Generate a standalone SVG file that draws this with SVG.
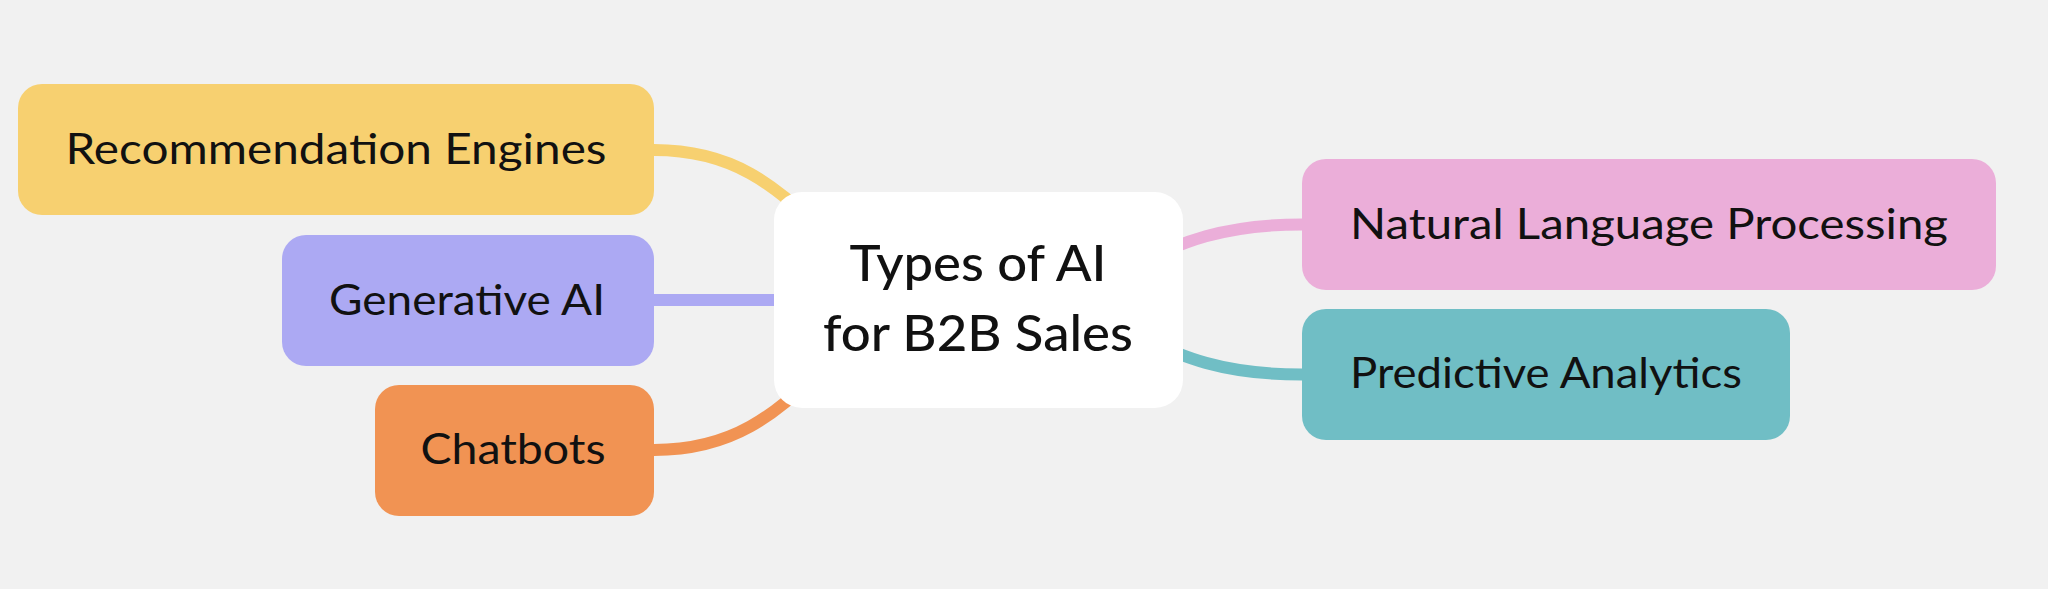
<svg xmlns="http://www.w3.org/2000/svg" width="2048" height="589" viewBox="0 0 2048 589">
<style>
.bg{fill:#f1f1f1}
.lbl{font-family:Lato,"Noto Sans","DejaVu Sans",sans-serif;font-size:43px;fill:#111111;text-anchor:middle}
.root{font-family:Lato,"Noto Sans","DejaVu Sans",sans-serif;font-size:51px;font-weight:500;fill:#111111;text-anchor:middle}
.c{fill:none;stroke-width:12;stroke-linecap:butt}
</style>
<rect class="bg" x="0" y="0" width="2048" height="589"/>
<g id="connectors">
<path class="c" stroke="#f7d070" d="M978,300 C816,300 816,150 654,150"/>
<path class="c" stroke="#aca9f3" d="M978,300 L654,300"/>
<path class="c" stroke="#f19353" d="M978,300 C816,300 816,450 654,450"/>
<path class="c" stroke="#ebaed9" d="M978,300 C1140,300 1140,224.5 1302,224.5"/>
<path class="c" stroke="#70bec5" d="M978,300 C1140,300 1140,374.5 1302,374.5"/>
</g>
<g id="root">
<rect x="774" y="192" width="409" height="216" rx="28" fill="#ffffff"/>
<text class="root" x="978" y="281" textLength="257" lengthAdjust="spacingAndGlyphs">Types of AI</text>
<text class="root" x="978" y="351" textLength="310" lengthAdjust="spacingAndGlyphs">for B2B Sales</text>
</g>
<g id="recommendation-engines">
<rect x="18" y="84" width="636" height="131" rx="24" fill="#f7d070"/>
<text class="lbl" x="336" y="164" textLength="541" lengthAdjust="spacingAndGlyphs">Recommendation Engines</text>
</g>
<g id="generative-ai">
<rect x="282" y="235" width="372" height="131" rx="24" fill="#aca9f3"/>
<text class="lbl" x="467" y="315" textLength="276" lengthAdjust="spacingAndGlyphs">Generative AI</text>
</g>
<g id="chatbots">
<rect x="375" y="385" width="279" height="131" rx="24" fill="#f19353"/>
<text class="lbl" x="513" y="464" textLength="185" lengthAdjust="spacingAndGlyphs">Chatbots</text>
</g>
<g id="natural-language-processing">
<rect x="1302" y="159" width="694" height="131" rx="24" fill="#ebaed9"/>
<text class="lbl" x="1649" y="239" textLength="598" lengthAdjust="spacingAndGlyphs">Natural Language Processing</text>
</g>
<g id="predictive-analytics">
<rect x="1302" y="309" width="488" height="131" rx="24" fill="#70bec5"/>
<text class="lbl" x="1546" y="388" textLength="392" lengthAdjust="spacingAndGlyphs">Predictive Analytics</text>
</g>
</svg>
